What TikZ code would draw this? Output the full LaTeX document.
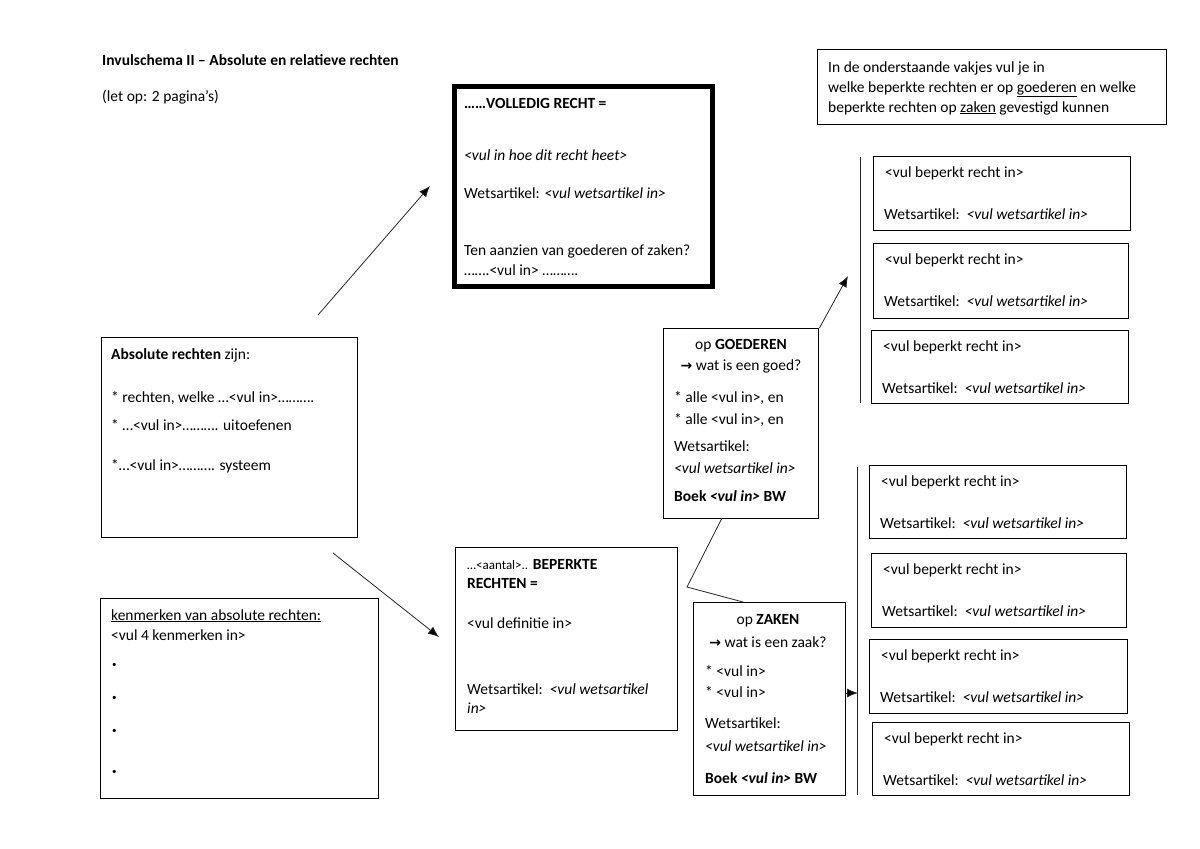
\documentclass[tikz,border=0pt]{standalone}
\usepackage{fontspec}
\setmainfont{Carlito}
\newfontfamily\dejavu{DejaVu Sans}
\usetikzlibrary{arrows.meta,calc}
\begin{document}
\begin{tikzpicture}[x=1pt,y=-1pt,
  box/.style={draw=black, line width=1.4pt, anchor=north west, inner sep=0pt},
  thickbox/.style={box, line width=4.5pt},
  txt/.style={anchor=base west, inner sep=0pt, font=\fontsize{15.5}{19}\selectfont},
  ctxt/.style={anchor=base, inner sep=0pt, font=\fontsize{15.5}{19}\selectfont},
  conn/.style={draw=black!85, line width=0.8pt},
  arr/.style={conn, -{Latex[length=11pt,width=9pt,fill=black]}}]
\useasboundingbox (0,0) rectangle (1200,849);
\fill[white] (0,0) rectangle (1200,849);

% title
\node[txt] (title) at (102,65) {\textbf{Invulschema II – Absolute en relatieve rechten}};
\node[txt] (sub) at (102,101) {(let op: 2 pagina’s)};

% top-right info box
\node[box, minimum width=349pt, minimum height=75pt] (info) at (817,49) {};
\node[txt] (i1) at (828,72) {In de onderstaande vakjes vul je in};
\node[txt] (i2) at (828,92) {welke beperkte rechten er op \underline{goederen} en welke};
\node[txt] (i3) at (828,112) {beperkte rechten op \underline{zaken} gevestigd kunnen};

% volledig recht
\node[thickbox, minimum width=258pt, minimum height=200pt] (vol) at (452,84) {};
\node[txt] (v1) at (464,108) {\textbf{……VOLLEDIG RECHT =}};
\node[txt] (v2) at (464,160) {\textit{<vul in hoe dit recht heet>}};
\node[txt] (v3) at (464,198) {Wetsartikel: \textit{<vul wetsartikel in>}};
\node[txt] (v4) at (464,255) {Ten aanzien van goederen of zaken?};
\node[txt] (v5) at (464,275) {…….<vul in> ……….};

% absolute rechten
\node[box, minimum width=256pt, minimum height=200pt] (abs) at (101,337) {};
\node[txt] (a1) at (111,359) {\textbf{Absolute rechten} zijn:};
\node[txt] (a2) at (111,402) {* rechten, welke …<vul in>……….};
\node[txt] (a3) at (111,430) {* …<vul in>………. uitoefenen};
\node[txt] (a4) at (111,470) {*…<vul in>………. systeem};

% kenmerken
\node[box, minimum width=278pt, minimum height=200pt] (ken) at (100,598) {};
\node[txt] (k1) at (111,620) {\underline{kenmerken van absolute rechten:}};
\node[txt] (k2) at (111,640) {<vul 4 kenmerken in>};
\node[txt, font=\fontsize{9}{10}\selectfont] (k3) at (112,667) {•};
\node[txt, font=\fontsize{9}{10}\selectfont] (k4) at (112,700) {•};
\node[txt, font=\fontsize{9}{10}\selectfont] (k5) at (112,733) {•};
\node[txt, font=\fontsize{9}{10}\selectfont] (k6) at (112,774) {•};

% beperkte rechten
\node[box, minimum width=222pt, minimum height=183pt] (bep) at (455,547) {};
\node[txt] (b1) at (467,569) {{\fontsize{13}{15}\selectfont …<aantal>..} \textbf{BEPERKTE}};
\node[txt] (b2) at (467,588) {\textbf{RECHTEN =}};
\node[txt] (b3) at (467,628) {<vul definitie in>};
\node[txt] (b4) at (467,694) {Wetsartikel:\ \ \textit{<vul wetsartikel}};
\node[txt] (b5) at (467,713) {\textit{in>}};

% op goederen
\node[box, minimum width=155pt, minimum height=190pt] (goed) at (663,328) {};
\node[ctxt] (g1) at (741,349) {op \textbf{GOEDEREN}};
\node[ctxt] (g2) at (741,370) {{\dejavu\bfseries\fontsize{14}{15}\selectfont →} wat is een goed?};
\node[txt] (g3) at (674,402) {* alle <vul in>, en};
\node[txt] (g4) at (674,424) {* alle <vul in>, en};
\node[txt] (g5) at (674,451) {Wetsartikel:};
\node[txt] (g6) at (674,473) {\textit{<vul wetsartikel in>}};
\node[txt] (g7) at (674,501) {\textbf{Boek \textit{<vul in>} BW}};

% op zaken
\node[box, minimum width=152pt, minimum height=193pt] (zaak) at (693,602) {};
\node[ctxt] (z1) at (768,624) {op \textbf{ZAKEN}};
\node[ctxt] (z2) at (768,647) {{\dejavu\bfseries\fontsize{14}{15}\selectfont →} wat is een zaak?};
\node[txt] (z3) at (705,676) {* <vul in>};
\node[txt] (z4) at (705,697) {* <vul in>};
\node[txt] (z5) at (705,728) {Wetsartikel:};
\node[txt] (z6) at (705,751) {\textit{<vul wetsartikel in>}};
\node[txt] (z7) at (705,783) {\textbf{Boek \textit{<vul in>} BW}};

% right column boxes
\foreach \n/\x/\y/\w/\h in {r1/873/156/257/74, r2/873/243/255/75, r3/871/330/257/73,
   r4/869/465/257/73, r5/871/553/255/74, r6/869/639/258/74, r7/872/722/257/73}{
  \node[box, minimum width=\w pt, minimum height=\h pt] (\n) at (\x,\y) {};
  \node[txt] (\n a) at ($(\x,\y)+(12,21)$) {<vul beperkt recht in>};
  \node[txt] (\n b) at ($(\x,\y)+(11,63)$) {Wetsartikel:\ \ \textit{<vul wetsartikel in>}};
}

% connectors
\coordinate (s1) at (318,315);
\coordinate (e1) at (430,186);
\coordinate (s2) at (333,553);
\coordinate (e2) at (439,637);
\coordinate (e3) at (848,276);
\coordinate (gb) at (722,518);
\coordinate (knee) at (687,587);
\coordinate (zt) at (743,602);
\coordinate (vu1) at (860,157);
\coordinate (vu2) at (860,403);
\coordinate (vl1) at (857,467);
\coordinate (vl2) at (857,795);
\coordinate (za) at (845,693);
\coordinate (ze) at (858,693);

\draw[arr] (s1) -- (e1);
\draw[arr] (s2) -- (e2);
\draw[arr] (goed.north east) -- (e3);
\draw[conn] (gb) -- (knee) -- (zt);
\draw[conn] (vu1) -- (vu2);
\draw[conn] (vl1) -- (vl2);
\draw[arr] (za) -- (ze);
\end{tikzpicture}
\end{document}
